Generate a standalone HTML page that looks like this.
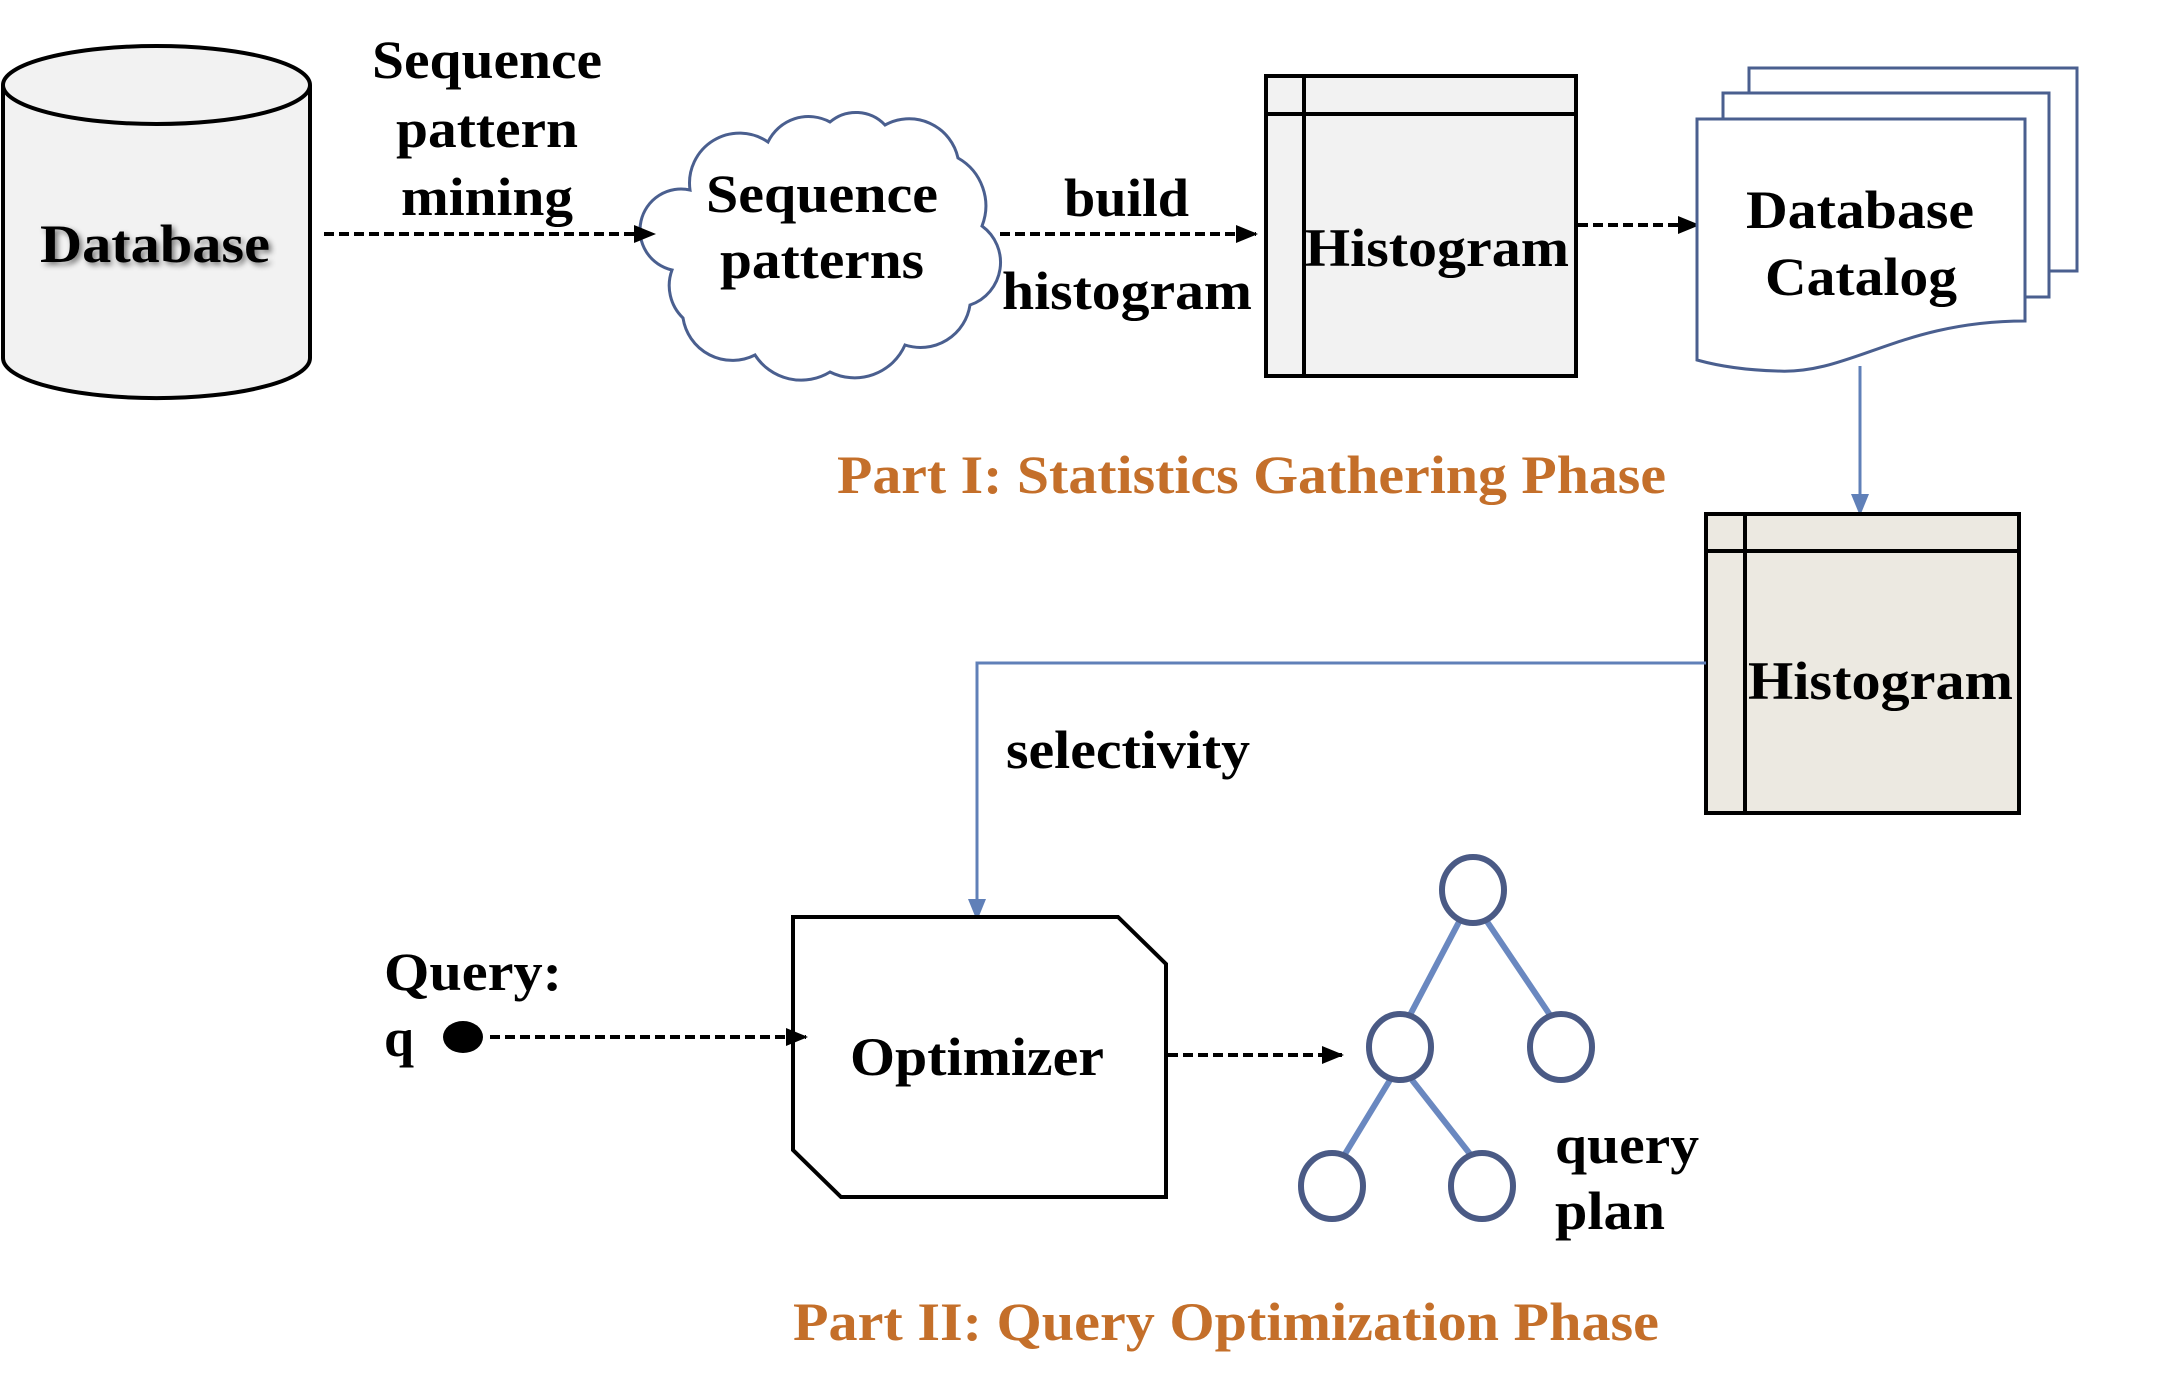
<!DOCTYPE html>
<html><head><meta charset="utf-8"><style>
html,body{margin:0;padding:0;background:#fff;}
svg{display:block;}
text{font-family:"Liberation Serif",serif;font-weight:bold;font-size:54px;fill:#000;}
.or{fill:#c46f2a;}
</style></head><body>
<svg width="2170" height="1391" viewBox="0 0 2170 1391" xmlns="http://www.w3.org/2000/svg">
<defs>
<marker id="ab" markerWidth="22" markerHeight="22" refX="20" refY="11" orient="auto" markerUnits="userSpaceOnUse" viewBox="0 0 22 22"><path d="M0,2 L22,11 L0,20 Z" fill="#000"/></marker>
<marker id="ablue" markerWidth="22" markerHeight="22" refX="20" refY="11" orient="auto" markerUnits="userSpaceOnUse" viewBox="0 0 22 22"><path d="M0,2 L22,11 L0,20 Z" fill="#6080b8"/></marker>
<filter id="sh" x="-10%" y="-10%" width="120%" height="130%"><feGaussianBlur in="SourceAlpha" stdDeviation="3"/><feOffset dx="3" dy="3"/><feComponentTransfer><feFuncA type="linear" slope="0.5"/></feComponentTransfer><feMerge><feMergeNode/><feMergeNode in="SourceGraphic"/></feMerge></filter>
</defs>

<!-- Cylinder -->
<path d="M3,85 V358 A153,40 0 0 0 310,358 V85" fill="#f2f2f2" stroke="#000" stroke-width="4"/>
<ellipse cx="156.5" cy="85" rx="153.5" ry="39" fill="#f2f2f2" stroke="#000" stroke-width="4"/>
<text x="40" y="262" textLength="230" lengthAdjust="spacingAndGlyphs" filter="url(#sh)">Database</text>

<!-- Sequence pattern mining -->
<text x="372" y="78" textLength="230" lengthAdjust="spacingAndGlyphs">Sequence</text>
<text x="396" y="147" textLength="182" lengthAdjust="spacingAndGlyphs">pattern</text>
<text x="401" y="215" textLength="172" lengthAdjust="spacingAndGlyphs">mining</text>

<!-- Cloud -->
<path d="M690,190 A50,50 0 0 1 768,142 A45,45 0 0 1 830,122 A40,40 0 0 1 885,125 A50,50 0 0 1 958,158 A55,55 0 0 1 982,226 A45,45 0 0 1 970,305 A50,50 0 0 1 905,345 A55,55 0 0 1 830,372 A55,55 0 0 1 755,355 A50,50 0 0 1 683,318 A45,45 0 0 1 672,270 A40,40 0 0 1 690,190 Z" fill="#fff" stroke="#4a5f8f" stroke-width="3"/>
<text x="706" y="212" textLength="232" lengthAdjust="spacingAndGlyphs">Sequence</text>
<text x="720" y="278" textLength="204" lengthAdjust="spacingAndGlyphs">patterns</text>
<line x1="324" y1="234" x2="654" y2="234" stroke="#000" stroke-width="4" stroke-dasharray="10,5" marker-end="url(#ab)"/>

<!-- build histogram -->
<text x="1064" y="216" textLength="125" lengthAdjust="spacingAndGlyphs">build</text>
<text x="1002" y="309" textLength="250" lengthAdjust="spacingAndGlyphs">histogram</text>
<line x1="1000" y1="234" x2="1256" y2="234" stroke="#000" stroke-width="4" stroke-dasharray="10,5" marker-end="url(#ab)"/>

<!-- Histogram 1 -->
<rect x="1266" y="76" width="310" height="300" fill="#f2f2f2" stroke="#000" stroke-width="4"/>
<line x1="1304" y1="76" x2="1304" y2="376" stroke="#000" stroke-width="4"/>
<line x1="1266" y1="114" x2="1576" y2="114" stroke="#000" stroke-width="4"/>
<text x="1305" y="266" textLength="264" lengthAdjust="spacingAndGlyphs">Histogram</text>
<line x1="1578" y1="225" x2="1698" y2="225" stroke="#000" stroke-width="4" stroke-dasharray="10,5" marker-end="url(#ab)"/>

<!-- Catalog -->
<rect x="1749" y="68" width="328" height="203" fill="#fff" stroke="#4a5f8f" stroke-width="3"/>
<rect x="1723" y="93" width="326" height="204" fill="#fff" stroke="#4a5f8f" stroke-width="3"/>
<path d="M1697,119 H2025 V321 C1900,321 1850,375 1777,371 C1740,370 1715,365 1697,360 Z" fill="#fff" stroke="#4a5f8f" stroke-width="3"/>
<text x="1746" y="228" textLength="228" lengthAdjust="spacingAndGlyphs">Database</text>
<text x="1765" y="295" textLength="192" lengthAdjust="spacingAndGlyphs">Catalog</text>

<line x1="1860" y1="366" x2="1860" y2="514" stroke="#6080b8" stroke-width="3" marker-end="url(#ablue)"/>

<text class="or" x="837" y="493" textLength="829" lengthAdjust="spacingAndGlyphs">Part I: Statistics Gathering Phase</text>

<!-- Histogram 2 -->
<rect x="1706" y="514" width="313" height="299" fill="#ece9e1" stroke="#000" stroke-width="4"/>
<line x1="1745" y1="514" x2="1745" y2="813" stroke="#000" stroke-width="4"/>
<line x1="1706" y1="551" x2="2019" y2="551" stroke="#000" stroke-width="4"/>
<text x="1748" y="699" textLength="265" lengthAdjust="spacingAndGlyphs">Histogram</text>

<polyline points="1706,663 977,663 977,919" fill="none" stroke="#6080b8" stroke-width="3" marker-end="url(#ablue)"/>
<text x="1006" y="768" textLength="244" lengthAdjust="spacingAndGlyphs">selectivity</text>

<!-- Optimizer -->
<path d="M793,917 H1118 L1166,964 V1197 H841 L793,1150 Z" fill="#fff" stroke="#000" stroke-width="4"/>
<text x="850" y="1075" textLength="254" lengthAdjust="spacingAndGlyphs">Optimizer</text>

<text x="384" y="990" textLength="178" lengthAdjust="spacingAndGlyphs">Query:</text>
<text x="384" y="1056">q</text>
<ellipse cx="463" cy="1037" rx="20" ry="16" fill="#000"/>
<line x1="490" y1="1037" x2="806" y2="1037" stroke="#000" stroke-width="4" stroke-dasharray="10,5" marker-end="url(#ab)"/>
<line x1="1168" y1="1055" x2="1342" y2="1055" stroke="#000" stroke-width="4" stroke-dasharray="10,5" marker-end="url(#ab)"/>

<!-- Tree -->
<g stroke="#6a88c0" stroke-width="6">
<line x1="1460" y1="920" x2="1410" y2="1015"/>
<line x1="1486" y1="920" x2="1550" y2="1015"/>
<line x1="1390" y1="1080" x2="1345" y2="1154"/>
<line x1="1412" y1="1080" x2="1470" y2="1154"/>
</g>
<g fill="#fff" stroke="#4a5a85" stroke-width="6">
<ellipse cx="1473" cy="890" rx="31" ry="33"/>
<ellipse cx="1400" cy="1047" rx="31" ry="33"/>
<ellipse cx="1561" cy="1047" rx="31" ry="33"/>
<ellipse cx="1332" cy="1186" rx="31" ry="33"/>
<ellipse cx="1482" cy="1186" rx="31" ry="33"/>
</g>
<text x="1555" y="1163" textLength="144" lengthAdjust="spacingAndGlyphs">query</text>
<text x="1555" y="1229" textLength="110" lengthAdjust="spacingAndGlyphs">plan</text>

<text class="or" x="793" y="1340" textLength="866" lengthAdjust="spacingAndGlyphs">Part II: Query Optimization Phase</text>
</svg>
</body></html>
